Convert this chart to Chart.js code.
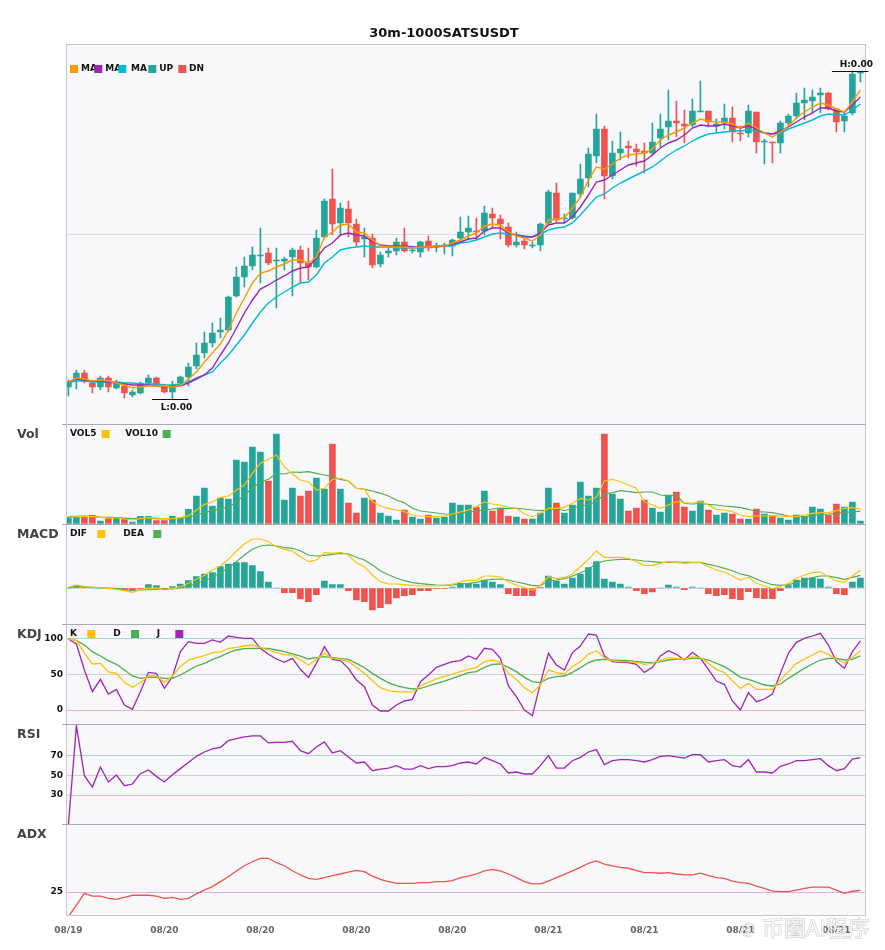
<!DOCTYPE html>
<html>
<head>
<meta charset="utf-8">
<title>30m-1000SATSUSDT</title>
<script src="https://cdn.jsdelivr.net/npm/chart.js@4.4.1/dist/chart.umd.min.js"></script>
<style>
  html, body { margin: 0; padding: 0; background: #fff; }
  #chart { display: block; }
</style>
</head>
<body>
<canvas id="chart" width="885" height="950" style="width:885px;height:950px"></canvas>
<script>
const FONT = '"DejaVu Sans", "Noto Sans", sans-serif';
const TITLE = '30m-1000SATSUSDT';

// 30m candles (USDT)
const openP = [
  2537e-7, 2544e-7, 2551e-7, 2541e-7, 2537e-7, 2546e-7, 2536e-7, 2538e-7, 2529e-7, 2531e-7,
  2541e-7, 2546e-7, 2537e-7, 2532e-7, 2541e-7, 2547e-7, 2558e-7, 2571e-7, 2581e-7, 2592e-7,
  2594e-7, 2628e-7, 2647e-7, 2658e-7, 2668e-7, 2671e-7, 2663e-7, 2663e-7, 2667e-7, 2674e-7,
  2661e-7, 2657e-7, 2687e-7, 2725e-7, 2701e-7, 2715e-7, 2700e-7, 2685e-7, 2686e-7, 2660e-7,
  2671e-7, 2673e-7, 2682e-7, 2673e-7, 2672e-7, 2683e-7, 2677e-7, 2678e-7, 2678e-7, 2686e-7,
  2692e-7, 2693e-7, 2693e-7, 2710e-7, 2705e-7, 2697e-7, 2679e-7, 2683e-7, 2678e-7, 2679e-7,
  2701e-7, 2731e-7, 2705e-7, 2706e-7, 2730e-7, 2746e-7, 2768e-7, 2795e-7, 2748e-7, 2771e-7,
  2778e-7, 2775e-7, 2773e-7, 2771e-7, 2786e-7, 2797e-7, 2803e-7, 2800e-7, 2799e-7, 2812e-7,
  2813e-7, 2798e-7, 2801e-7, 2806e-7, 2791e-7, 2791e-7, 2812e-7, 2782e-7, 2782e-7, 2781e-7,
  2801e-7, 2808e-7, 2821e-7, 2823e-7, 2829e-7, 2831e-7, 2815e-7, 2803e-7, 2811e-7, 2851e-7
];
const highP = [
  2544e-7, 2554e-7, 2554e-7, 2544e-7, 2548e-7, 2548e-7, 2544e-7, 2541e-7, 2534e-7, 2542e-7,
  2549e-7, 2547e-7, 2540e-7, 2543e-7, 2548e-7, 2561e-7, 2581e-7, 2592e-7, 2601e-7, 2606e-7,
  2628e-7, 2657e-7, 2667e-7, 2677e-7, 2696e-7, 2676e-7, 2676e-7, 2667e-7, 2676e-7, 2678e-7,
  2676e-7, 2694e-7, 2725e-7, 2755e-7, 2721e-7, 2723e-7, 2705e-7, 2696e-7, 2690e-7, 2672e-7,
  2677e-7, 2686e-7, 2696e-7, 2678e-7, 2683e-7, 2688e-7, 2681e-7, 2681e-7, 2685e-7, 2707e-7,
  2708e-7, 2706e-7, 2718e-7, 2716e-7, 2709e-7, 2701e-7, 2692e-7, 2685e-7, 2682e-7, 2701e-7,
  2734e-7, 2741e-7, 2710e-7, 2731e-7, 2760e-7, 2776e-7, 2810e-7, 2798e-7, 2783e-7, 2792e-7,
  2783e-7, 2780e-7, 2781e-7, 2801e-7, 2810e-7, 2834e-7, 2823e-7, 2814e-7, 2825e-7, 2843e-7,
  2813e-7, 2805e-7, 2820e-7, 2817e-7, 2798e-7, 2819e-7, 2812e-7, 2785e-7, 2782e-7, 2803e-7,
  2810e-7, 2831e-7, 2836e-7, 2834e-7, 2836e-7, 2832e-7, 2815e-7, 2813e-7, 2853e-7, 2852e-7
];
const lowP = [
  2528e-7, 2535e-7, 2541e-7, 2531e-7, 2534e-7, 2532e-7, 2535e-7, 2526e-7, 2527e-7, 2530e-7,
  2539e-7, 2538e-7, 2531e-7, 2525e-7, 2540e-7, 2538e-7, 2555e-7, 2566e-7, 2577e-7, 2586e-7,
  2592e-7, 2627e-7, 2637e-7, 2654e-7, 2641e-7, 2659e-7, 2616e-7, 2654e-7, 2628e-7, 2641e-7,
  2644e-7, 2656e-7, 2686e-7, 2689e-7, 2688e-7, 2687e-7, 2678e-7, 2667e-7, 2656e-7, 2657e-7,
  2667e-7, 2669e-7, 2672e-7, 2671e-7, 2667e-7, 2673e-7, 2672e-7, 2670e-7, 2668e-7, 2684e-7,
  2684e-7, 2684e-7, 2689e-7, 2696e-7, 2685e-7, 2677e-7, 2677e-7, 2675e-7, 2676e-7, 2673e-7,
  2699e-7, 2702e-7, 2702e-7, 2705e-7, 2726e-7, 2737e-7, 2761e-7, 2725e-7, 2745e-7, 2764e-7,
  2766e-7, 2758e-7, 2751e-7, 2769e-7, 2777e-7, 2784e-7, 2787e-7, 2781e-7, 2797e-7, 2812e-7,
  2797e-7, 2792e-7, 2795e-7, 2782e-7, 2783e-7, 2787e-7, 2771e-7, 2760e-7, 2761e-7, 2771e-7,
  2797e-7, 2805e-7, 2804e-7, 2811e-7, 2811e-7, 2814e-7, 2792e-7, 2792e-7, 2809e-7, 2842e-7
];
const closeP = [
  2542e-7, 2551e-7, 2543e-7, 2537e-7, 2546e-7, 2537e-7, 2542e-7, 2531e-7, 2532e-7, 2541e-7,
  2546e-7, 2539e-7, 2532e-7, 2538e-7, 2547e-7, 2557e-7, 2569e-7, 2581e-7, 2591e-7, 2594e-7,
  2627e-7, 2647e-7, 2658e-7, 2669e-7, 2669e-7, 2661e-7, 2664e-7, 2665e-7, 2674e-7, 2661e-7,
  2657e-7, 2686e-7, 2723e-7, 2700e-7, 2716e-7, 2701e-7, 2682e-7, 2687e-7, 2659e-7, 2669e-7,
  2673e-7, 2682e-7, 2673e-7, 2674e-7, 2682e-7, 2676e-7, 2678e-7, 2679e-7, 2684e-7, 2692e-7,
  2696e-7, 2692e-7, 2711e-7, 2706e-7, 2700e-7, 2679e-7, 2682e-7, 2679e-7, 2679e-7, 2700e-7,
  2732e-7, 2704e-7, 2706e-7, 2731e-7, 2745e-7, 2770e-7, 2795e-7, 2748e-7, 2771e-7, 2775e-7,
  2776e-7, 2772e-7, 2771e-7, 2782e-7, 2795e-7, 2803e-7, 2801e-7, 2798e-7, 2813e-7, 2813e-7,
  2802e-7, 2800e-7, 2806e-7, 2792e-7, 2790e-7, 2813e-7, 2782e-7, 2783e-7, 2781e-7, 2801e-7,
  2808e-7, 2821e-7, 2824e-7, 2827e-7, 2831e-7, 2815e-7, 2802e-7, 2808e-7, 2850e-7, 2852e-7
];

const ma5 = [
  2542e-7, 2546e-7, 2545e-7, 2543e-7, 2544e-7, 2543e-7, 2541e-7, 2539e-7, 2536e-7, 2537e-7,
  2538e-7, 2538e-7, 2538e-7, 2537e-7, 2538e-7, 2545e-7, 2552e-7, 2562e-7, 2571e-7, 2580e-7,
  2594e-7, 2611e-7, 2626e-7, 2641e-7, 2651e-7, 2653e-7, 2657e-7, 2660e-7, 2664e-7, 2664e-7,
  2661e-7, 2667e-7, 2687e-7, 2692e-7, 2699e-7, 2700e-7, 2692e-7, 2691e-7, 2684e-7, 2678e-7,
  2677e-7, 2677e-7, 2677e-7, 2676e-7, 2677e-7, 2677e-7, 2678e-7, 2678e-7, 2681e-7, 2684e-7,
  2688e-7, 2691e-7, 2698e-7, 2700e-7, 2699e-7, 2692e-7, 2688e-7, 2686e-7, 2683e-7, 2689e-7,
  2704e-7, 2705e-7, 2706e-7, 2716e-7, 2727e-7, 2744e-7, 2757e-7, 2755e-7, 2760e-7, 2766e-7,
  2769e-7, 2770e-7, 2771e-7, 2775e-7, 2784e-7, 2789e-7, 2792e-7, 2796e-7, 2801e-7, 2805e-7,
  2803e-7, 2802e-7, 2802e-7, 2800e-7, 2796e-7, 2801e-7, 2796e-7, 2791e-7, 2787e-7, 2792e-7,
  2798e-7, 2806e-7, 2812e-7, 2817e-7, 2821e-7, 2819e-7, 2815e-7, 2812e-7, 2822e-7, 2834e-7
];
const ma10 = [
  2542e-7, 2545e-7, 2544e-7, 2543e-7, 2543e-7, 2542e-7, 2541e-7, 2540e-7, 2539e-7, 2539e-7,
  2539e-7, 2538e-7, 2537e-7, 2538e-7, 2538e-7, 2541e-7, 2545e-7, 2549e-7, 2556e-7, 2569e-7,
  2581e-7, 2596e-7, 2611e-7, 2624e-7, 2635e-7, 2639e-7, 2644e-7, 2648e-7, 2653e-7, 2656e-7,
  2657e-7, 2666e-7, 2676e-7, 2681e-7, 2689e-7, 2691e-7, 2689e-7, 2688e-7, 2682e-7, 2679e-7,
  2678e-7, 2678e-7, 2678e-7, 2677e-7, 2677e-7, 2677e-7, 2678e-7, 2678e-7, 2680e-7, 2682e-7,
  2685e-7, 2686e-7, 2693e-7, 2696e-7, 2696e-7, 2691e-7, 2689e-7, 2687e-7, 2687e-7, 2691e-7,
  2699e-7, 2701e-7, 2701e-7, 2707e-7, 2717e-7, 2729e-7, 2742e-7, 2744e-7, 2749e-7, 2754e-7,
  2759e-7, 2761e-7, 2763e-7, 2769e-7, 2776e-7, 2781e-7, 2784e-7, 2789e-7, 2796e-7, 2799e-7,
  2798e-7, 2798e-7, 2800e-7, 2798e-7, 2796e-7, 2798e-7, 2795e-7, 2791e-7, 2790e-7, 2793e-7,
  2797e-7, 2802e-7, 2807e-7, 2811e-7, 2816e-7, 2816e-7, 2813e-7, 2812e-7, 2819e-7, 2827e-7
];
const ma20 = [
  2542e-7, 2543e-7, 2543e-7, 2542e-7, 2542e-7, 2542e-7, 2542e-7, 2541e-7, 2541e-7, 2540e-7,
  2540e-7, 2540e-7, 2539e-7, 2539e-7, 2540e-7, 2542e-7, 2546e-7, 2549e-7, 2552e-7, 2561e-7,
  2569e-7, 2579e-7, 2589e-7, 2601e-7, 2612e-7, 2621e-7, 2627e-7, 2632e-7, 2637e-7, 2641e-7,
  2642e-7, 2649e-7, 2661e-7, 2667e-7, 2674e-7, 2676e-7, 2677e-7, 2678e-7, 2677e-7, 2677e-7,
  2677e-7, 2676e-7, 2676e-7, 2676e-7, 2676e-7, 2677e-7, 2677e-7, 2678e-7, 2678e-7, 2681e-7,
  2682e-7, 2684e-7, 2687e-7, 2690e-7, 2691e-7, 2690e-7, 2689e-7, 2688e-7, 2687e-7, 2690e-7,
  2694e-7, 2696e-7, 2697e-7, 2701e-7, 2709e-7, 2718e-7, 2727e-7, 2730e-7, 2736e-7, 2741e-7,
  2745e-7, 2749e-7, 2753e-7, 2757e-7, 2763e-7, 2769e-7, 2774e-7, 2778e-7, 2783e-7, 2787e-7,
  2790e-7, 2791e-7, 2792e-7, 2793e-7, 2793e-7, 2794e-7, 2793e-7, 2791e-7, 2790e-7, 2791e-7,
  2795e-7, 2798e-7, 2801e-7, 2804e-7, 2808e-7, 2810e-7, 2809e-7, 2809e-7, 2814e-7, 2820e-7
];

// volume (millions)
const volume = [
  6.7, 7.3, 6.7, 8.7, 3, 5.3, 6.3, 5.3, 2, 7.7,
  7.7, 3.3, 3.3, 7.7, 5.7, 14.7, 28, 36, 18, 26,
  25, 64, 62, 77, 72, 43, 90, 24, 36, 28,
  33, 46, 35, 80, 35, 21, 11, 26, 24, 11,
  8, 4, 14, 7, 5, 9, 6, 7, 21, 19,
  19, 17, 33, 13, 16, 8, 7, 5, 5, 11,
  36, 21, 11, 19, 42, 28, 36, 90, 30, 25,
  13, 16, 24, 16, 12, 29, 32, 17, 13, 23,
  14, 9, 11, 10, 5, 5, 15, 10, 8, 6,
  4, 9, 7, 17, 15, 9, 20, 17, 22, 3
];
const vol5 = [
  6.7, 7.3, 7.3, 7.3, 6.7, 6, 6, 5, 4, 5.3,
  6.3, 6, 5, 5.3, 6.3, 8.3, 14, 19.7, 22, 26.7,
  28, 34, 39, 50.7, 60.7, 64.7, 69, 57.3, 50, 44,
  42.3, 34, 35.7, 44.7, 45.7, 43.3, 35.7, 34.7, 22.3, 18,
  15.7, 14, 12.3, 9, 8, 7.3, 7.3, 8, 10, 12,
  14, 17.3, 22, 20, 19, 16.7, 15.7, 10, 7.3, 10.7,
  15.7, 15.7, 16.7, 20.7, 25.7, 24, 26.7, 43, 44.7, 42.3,
  39, 35.7, 22.3, 19, 15.7, 19, 22.3, 21.3, 20.7, 22.3,
  19, 14.7, 14, 12.3, 9, 7.3, 8, 8, 8.3, 8,
  7.3, 7.3, 9, 10.7, 11.3, 11.3, 13.3, 15.7, 16.7, 14.7
];
const vol10 = [
  7.3, 7.7, 8, 7.7, 7, 6.7, 6.3, 6, 5.3, 5.7,
  5.7, 5.3, 5, 5.3, 5.7, 6.7, 9, 11.3, 13.3, 15.3,
  16.7, 22.3, 29, 35.7, 42.3, 44.7, 50.7, 50, 52, 51.7,
  52.3, 50.7, 49, 47.3, 44.7, 43, 35.7, 34.7, 33, 30.7,
  28, 24, 21.3, 15.7, 13, 12, 11, 10, 9.7, 10.7,
  12, 13, 14, 15, 15.7, 15.7, 15.7, 15, 14, 13.3,
  14, 15.7, 13.3, 15.7, 18, 19, 22.3, 30, 31.3, 33.3,
  32.3, 31.3, 32, 32, 29, 28.3, 28.7, 20.7, 20, 20.7,
  19.7, 19, 18, 17.3, 16.3, 14.7, 12.3, 12, 11.3, 9.7,
  8, 7.3, 7.3, 8.3, 9.7, 10, 10.7, 11.3, 12.3, 12.7
];

// MACD (x1e-8)
const macdHist = [
  0, 2.7, 0.7, 0.3, 0, -0.3, -0.3, -2.3, -2.3, -0.3,
  3.3, 2.3, -1.7, 1.3, 4, 7.3, 11.3, 14, 15.3, 21.3,
  24, 25.3, 25.3, 22.3, 16.3, 6, 0, -4.7, -4.7, -11,
  -13.7, -6.7, 7, 3.3, 3.3, -2.7, -12, -13.7, -22, -19.7,
  -16, -10, -7.7, -6.7, -2.7, -2.7, -0.7, -0.7, 1, 4.7,
  4.7, 4, 8, 6, 3.3, -5.7, -7.7, -7.7, -7.7, 0.3,
  12, 7, 4, 10, 14, 20.3, 26.3, 9, 6, 4,
  1, -2.7, -5.7, -4, 0, 3, 1, -1.7, 1, 0,
  -5.7, -7.7, -6.7, -10.7, -11.7, -3.7, -9.7, -10.7, -10.7, -2.7,
  2.3, 8, 10, 10, 9, 1, -5.7, -6.7, 6, 10
];
const dif = [
  0.7, 3, 1.7, 0.7, 0.3, -0.3, -1.3, -2.7, -4.3, -2,
  -0.7, -0.3, -2, -1, 1.3, 4.7, 8.7, 12.7, 18, 22,
  28.7, 37, 44, 49, 49, 46.3, 41.3, 38.7, 37, 31.3,
  26.3, 28, 35.3, 34.7, 35.7, 33, 25.3, 21.3, 13, 6.3,
  4, 4, 3.3, 2.3, 2, 2, 2.3, 2.7, 4, 6,
  7.7, 7.7, 12, 12, 11, 6, 3, 0.3, -2, 3,
  11.3, 9.7, 10.3, 14, 21.3, 28.7, 37, 30.7, 30.7, 30.7,
  29.7, 26.3, 22.7, 22.7, 24.7, 26.7, 25.7, 24.7, 25.3, 25.3,
  21.3, 18, 16, 12, 8, 10.7, 4.7, 2, -0.7, 1.3,
  4.7, 9.7, 13, 15.3, 16, 11.3, 7.3, 5.7, 12, 18
];
const dea = [
  0.3, 1.3, 1, 0.7, 0.3, 0, -0.3, -1.3, -2, -2,
  -1.7, -1.3, -1.3, -1, 0.3, 1.3, 4.7, 7.3, 10.7, 15.3,
  20.3, 26.3, 33, 38.7, 42, 43, 42, 40.3, 39.7, 37.3,
  33, 32, 32.7, 33.7, 34.7, 34, 30.7, 28, 23, 17.3,
  13.3, 10, 7.3, 5.3, 4.3, 3.7, 3, 2.7, 3, 4,
  4.7, 5.7, 7.7, 8.7, 9, 8, 6, 4.3, 2.3, 2.3,
  7, 8, 9.3, 12, 15.3, 18.7, 24.7, 27, 28, 28.7,
  28.7, 28, 27, 26.3, 25.7, 25.7, 26, 25.7, 25.7, 25.7,
  23.7, 22, 19.7, 17.3, 14, 12.3, 9, 5.7, 3.3, 2.7,
  3.3, 5.3, 8, 10.3, 12, 12, 10.3, 8.7, 10.7, 12.7
];

const kLine = [
  100, 97.7, 80, 64.8, 65.7, 53.5, 51.6, 39, 31.9, 38.5,
  47.9, 47.9, 39, 47.9, 61, 70.4, 73.7, 76.5, 80.8, 81.7,
  86.9, 88.3, 90.1, 91.5, 88.3, 84.5, 80.8, 77.5, 77.5, 70.4,
  63.4, 71.4, 79.8, 72.8, 71.4, 68.1, 60.1, 51.6, 41.3, 31.5,
  27.2, 25.4, 25.4, 25.4, 33.8, 39, 43.7, 46.9, 50.7, 54,
  57.3, 60.1, 68.1, 70.4, 66.7, 51.6, 43.2, 31.5, 24.4, 35.2,
  56.3, 52.6, 50.7, 61, 68.1, 78.9, 83.1, 73.7, 69.5, 68.1,
  68.1, 67.1, 64.3, 65.7, 70.4, 73.7, 72.8, 71.8, 75.1, 73.7,
  65.7, 57.3, 52.6, 41.3, 30.5, 37.6, 29.1, 29.1, 29.1, 42.3,
  54, 65.7, 71.4, 77.5, 83.1, 78.4, 71.4, 65.7, 74.2, 83.1
];
const dLine = [
  100, 97.7, 91.5, 82.2, 76.1, 69.5, 64.3, 56.3, 47.9, 44.6,
  46, 46, 44.6, 44.6, 49.3, 55.4, 62, 65.7, 71.4, 75.1,
  80.8, 84.5, 86.4, 86.9, 86.9, 86.9, 84.5, 82.2, 79, 76,
  71.8, 73.7, 75.1, 73.7, 72.3, 71.4, 65.7, 59.6, 51.6, 44.6,
  38.5, 34.3, 31.5, 29.6, 30.5, 33.8, 37.6, 40.8, 44.6, 48.4,
  52.6, 54, 60.1, 64.3, 64.8, 60.1, 54, 46, 39.9, 38.5,
  44.6, 46.9, 47.9, 53, 59.6, 66.7, 70.4, 71.4, 70.4, 70,
  69.5, 68.5, 67.1, 66.7, 68.1, 70.4, 71.8, 71.8, 72.8, 72.8,
  70.4, 65.7, 61, 54, 46, 43.2, 39.4, 35.2, 33.8, 36.6,
  44.6, 51.6, 58.7, 64.8, 70.4, 72.8, 72.8, 70.4, 71.4, 76.1
];
const jLine = [
  100, 93, 56.3, 25.8, 43.2, 22.5, 29.1, 7, 0.9, 25.8,
  53, 51.6, 30.5, 46.9, 82.2, 96.2, 93.9, 93.9, 98.6, 95.3,
  104.2, 102.3, 100.9, 100.9, 86.9, 78.4, 71.8, 67.1, 72.8, 57.3,
  46, 65.7, 89.2, 71.4, 69.5, 58.7, 42.3, 32.9, 7, -1.4,
  -1.4, 7, 12.7, 15, 39.9, 49.3, 60.1, 64.3, 68.1, 69.5,
  76.1, 71.4, 86.9, 85.4, 72.8, 33.8, 18.8, 0, -8, 37.6,
  79.8, 63.4, 56.3, 80.8, 90.1, 107, 105.6, 76.1, 68.1, 67.1,
  66.7, 64.3, 53, 60.1, 76.1, 83.6, 78.4, 70.4, 81.2, 72.8,
  57.3, 40.8, 36.2, 12.7, 0, 24.4, 11.7, 15.5, 22.5, 51.6,
  79.8, 95.3, 100.9, 104.2, 108, 91.5, 68.1, 58.7, 82.2, 97.2
];

const rsi = [
  0, 100, 49.5, 38, 58.3, 43.1, 50.2, 39.4, 41.1, 51.5,
  55.2, 48.8, 43.1, 50.5, 56.6, 62.9, 69, 73.4, 76.5, 78.1,
  84.8, 86.9, 88.6, 89.6, 89.6, 82.5, 83.1, 83.1, 84.2, 74.7,
  71.7, 78.5, 83.5, 72.4, 74.7, 68.4, 62.3, 63.3, 54.5, 56.2,
  57.2, 59.6, 56.2, 56.2, 59.6, 56.6, 58.6, 58.6, 59.6, 62.3,
  63.3, 61.3, 68, 64.6, 61.3, 52.2, 53.2, 51.2, 51.2, 59.6,
  69.7, 57.2, 57.2, 64.6, 68, 73.4, 75.8, 60.6, 64.6, 65.7,
  65.7, 64.6, 63.3, 65.7, 69, 69.7, 68.4, 67.3, 70.7, 70.7,
  63.3, 64.6, 65.7, 59.6, 58.2, 65.7, 53.2, 53.2, 52.2, 58.9,
  61.3, 64.6, 64.6, 65.7, 66.6, 59.6, 54.5, 56.6, 66.3, 67.6
];

const adx = [
  12, 18.2, 24.3, 22.9, 22.9, 21.7, 21.2, 22.2, 23.3, 23.3,
  23.3, 22.9, 21.7, 22.2, 21.2, 21.7, 24, 26, 27.8, 30.4,
  33, 36, 38.7, 40.8, 42.6, 42.6, 40.3, 38.7, 36.1, 33.9,
  32.1, 31.6, 32.5, 33.5, 34.4, 35.4, 36.3, 35.6, 33.3, 31.6,
  30.4, 29.5, 29.5, 29.5, 29.9, 29.9, 30.4, 30.4, 30.9, 32.5,
  33.3, 34.4, 36, 36.8, 36, 34.4, 32.5, 30.4, 29.2, 29.2,
  30.7, 32.5, 34.2, 36, 37.9, 40, 41.2, 39.6, 38.6, 37.9,
  37.4, 36.1, 35.1, 35.1, 34.8, 35.1, 34.4, 33.9, 33.9, 34.8,
  33.5, 32.5, 32.1, 30.7, 29.9, 29.5, 28.1, 26.9, 25.5, 25.2,
  25.2, 26, 26.9, 27.5, 27.5, 27.5, 26, 24.3, 25.4, 25.9
];

const tickIndex = [0, 12, 24, 36, 48, 60, 72, 84, 96];
const tickLabels = ['08/19', '08/20', '08/20', '08/20', '08/20', '08/21', '08/21', '08/21', '08/21'];

const UP = '#26a69a', DN = '#ef5350';
const candleColor = openP.map((o, i) => closeP[i] >= o ? UP : DN);
const histColor = macdHist.map(v => v >= 0 ? UP : DN);

const pts = arr => arr.map((v, i) => ({ x: i, y: v }));

function line(label, values, color, axis, width) {
  return {
    type: 'line', label, data: pts(values), yAxisID: axis,
    borderColor: color, borderWidth: width || 1.3,
    pointRadius: 0, tension: 0, fill: false, order: 0
  };
}

function bars(label, data, colors, axis, thick, order, minLen) {
  return {
    type: 'bar', label, data, yAxisID: axis,
    backgroundColor: colors, borderWidth: 0,
    barThickness: thick, grouped: false, order,
    minBarLength: minLen || 0
  };
}

function panel(stackWeight, weight, min, max, levels, colors, showLabels) {
  return {
    type: 'linear', position: 'left', stack: 'panels', stackWeight, weight,
    min, max, offset: false,
    afterFit: s => { s.width = 66; },
    afterBuildTicks: s => { s.ticks = levels.map(v => ({ value: v })); },
    grid: { drawTicks: false, lineWidth: 1, color: c => colors[c.index] || 'rgba(0,0,0,0)' },
    border: { display: false },
    ticks: { display: showLabels, padding: 3, color: '#111', font: { family: FONT, size: 9, weight: 'bold' } }
  };
}

// keep each indicator inside its own panel
const panelClip = {
  id: 'panelClip',
  beforeDatasetDraw(chart, args) {
    const s = chart.scales[args.meta.yAxisID];
    const a = chart.chartArea;
    chart.ctx.save();
    chart.ctx.beginPath();
    chart.ctx.rect(a.left, s.top, a.right - a.left, s.bottom - s.top);
    chart.ctx.clip();
  },
  afterDatasetDraw(chart) {
    chart.ctx.restore();
  }
};

function drawLegend(ctx, y, texts, boxes) {
  ctx.font = 'bold 9px ' + FONT;
  ctx.fillStyle = '#111';
  ctx.textAlign = 'left';
  ctx.textBaseline = 'middle';
  texts.forEach(t => ctx.fillText(t[0], t[1], y));
  boxes.forEach(b => {
    ctx.fillStyle = b[1];
    ctx.fillRect(b[0], y - 4, 8, 8);
  });
}

const decor = {
  id: 'decor',
  beforeDraw(chart) {
    const { ctx, chartArea: a } = chart;
    ctx.save();
    ctx.fillStyle = '#f8f8fb';
    ctx.fillRect(a.left, a.top, a.right - a.left, a.bottom - a.top);
    ctx.restore();
  },
  afterDraw(chart) {
    const { ctx, chartArea: a, scales } = chart;
    ctx.save();

    // title
    ctx.fillStyle = '#111';
    ctx.font = 'bold 13px ' + FONT;
    ctx.textAlign = 'center';
    ctx.textBaseline = 'middle';
    ctx.fillText(TITLE, 444, 34);

    // outer frame
    ctx.strokeStyle = '#c8c8d2';
    ctx.lineWidth = 1;
    ctx.strokeRect(Math.round(a.left) + 0.5, Math.round(a.top) + 0.5,
      Math.round(a.right - a.left) - 1, Math.round(a.bottom - a.top));

    // panel separators
    ctx.strokeStyle = '#a9a9b3';
    ['yVol', 'yMacd', 'yKdj', 'yRsi', 'yAdx'].forEach(id => {
      const y = Math.round(scales[id].top) + 0.5;
      ctx.beginPath();
      ctx.moveTo(a.left - 4, y);
      ctx.lineTo(a.right, y);
      ctx.stroke();
    });

    // panel titles
    ctx.fillStyle = '#444';
    ctx.font = 'bold 12.5px ' + FONT;
    ctx.textAlign = 'left';
    ctx.textBaseline = 'middle';
    [['Vol', 'yVol'], ['MACD', 'yMacd'], ['KDJ', 'yKdj'], ['RSI', 'yRsi'], ['ADX', 'yAdx']]
      .forEach(p => ctx.fillText(p[0], 17, scales[p[1]].top + 10.5));

    // legends
    drawLegend(ctx, scales.y.top + 25,
      [['MA', 81], ['MA', 105.3], ['MA', 131], ['UP', 159.3], ['DN', 189]],
      [[70, '#ff9800'], [94.3, '#9c27b0'], [118.3, '#00bcd4'], [148.3, UP], [178.3, DN]]);
    drawLegend(ctx, scales.yVol.top + 10,
      [['VOL5', 70], ['VOL10', 125.3]], [[101.7, '#ffc107'], [162.7, '#4caf50']]);
    drawLegend(ctx, scales.yMacd.top + 10,
      [['DIF', 70], ['DEA', 123.3]], [[97.3, '#ffc107'], [153.3, '#4caf50']]);
    drawLegend(ctx, scales.yKdj.top + 10,
      [['K', 70], ['D', 113.3], ['J', 156.7]], [[87.3, '#ffc107'], [131, '#4caf50'], [175.3, '#9c27b0']]);

    // highest high / lowest low markers
    const hi = highP.indexOf(Math.max(...highP));
    const lo = lowP.indexOf(Math.min(...lowP));
    const mark = (idx, val, text, dy) => {
      const px = scales.x.getPixelForValue(idx);
      const py = Math.round(scales.y.getPixelForValue(val)) + 0.5;
      ctx.strokeStyle = '#111';
      ctx.lineWidth = 1;
      ctx.beginPath();
      ctx.moveTo(px - 20.5, py);
      ctx.lineTo(px + 16, py);
      ctx.stroke();
      ctx.fillStyle = '#111';
      ctx.font = 'bold 9px ' + FONT;
      ctx.textAlign = 'center';
      ctx.textBaseline = 'middle';
      ctx.fillText(text + val.toFixed(2), px + 4, py + dy);
    };
    mark(hi, highP[hi], 'H:', -6.5);
    mark(lo, lowP[lo], 'L:', 8.5);

    // source watermark
    ctx.textAlign = 'left';
    ctx.textBaseline = 'alphabetic';
    ctx.lineWidth = 1;
    ctx.strokeStyle = 'rgba(140,140,140,0.45)';
    ctx.fillStyle = 'rgba(255,255,255,0.7)';
    ctx.font = '15px "Noto Sans CJK SC", sans-serif';
    ctx.strokeText('@', 741, 934);
    ctx.fillText('@', 741, 934);
    ctx.font = '22px "Noto Sans CJK SC", sans-serif';
    ctx.strokeText('币圈AI程序', 762, 936);
    ctx.fillText('币圈AI程序', 762, 936);

    ctx.restore();
  }
};

new Chart(document.getElementById('chart'), {
  type: 'bar',
  data: {
    datasets: [
      line('MA5', ma5, '#ff9800', 'y', 1.4),
      line('MA10', ma10, '#9c27b0', 'y', 1.4),
      line('MA20', ma20, '#00bcd4', 'y', 1.4),
      bars('Body', openP.map((o, i) => ({ x: i, y: [o, closeP[i]] })), candleColor, 'y', 6, 1, 1),
      bars('Wick', lowP.map((l, i) => ({ x: i, y: [l, highP[i]] })), candleColor, 'y', 1, 2),

      line('VOL5', vol5, '#ffc107', 'yVol', 1.2),
      line('VOL10', vol10, '#4caf50', 'yVol', 1.2),
      bars('Vol', pts(volume), candleColor, 'yVol', 6, 1),

      line('DIF', dif, '#ffc107', 'yMacd', 1.2),
      line('DEA', dea, '#4caf50', 'yMacd', 1.2),
      bars('MACD', pts(macdHist), histColor, 'yMacd', 6, 1),

      line('K', kLine, '#ffc107', 'yKdj', 1.3),
      line('D', dLine, '#4caf50', 'yKdj', 1.3),
      line('J', jLine, '#9c27b0', 'yKdj', 1.3),

      line('RSI', rsi, '#9c27b0', 'yRsi', 1.3),
      line('ADX', adx, '#ef5350', 'yAdx', 1.3)
    ]
  },
  options: {
    responsive: false,
    animation: false,
    events: [],
    layout: { padding: { left: 0, right: 19.4, top: 44, bottom: 0 } },
    plugins: {
      legend: { display: false },
      tooltip: { enabled: false },
      title: { display: false }
    },
    scales: {
      x: {
        type: 'linear', min: -0.3, max: 99.65, offset: false,
        afterFit: s => { s.height = 35; },
        afterBuildTicks: s => { s.ticks = tickIndex.map(v => ({ value: v })); },
        grid: { display: false },
        border: { display: false },
        ticks: {
          autoSkip: false, maxRotation: 0, padding: 2, color: '#666',
          font: { family: FONT, size: 9, weight: 'bold' },
          callback: (v, i) => tickLabels[i]
        }
      },
      y: panel(380, 6, 2500e-7, 2880e-7, [2690e-7], ['#dcdce2'], false),
      yVol: panel(100, 5, 0, 100, [0], ['rgba(0,0,0,0)'], false),
      yMacd: panel(100, 4, -36, 64, [0], ['#d6d6dc'], false),
      yKdj: panel(100, 3, -19.7, 121.1, [0, 50, 100], ['#f7b8b8', '#cfcfd5', '#a8dad5'], true),
      yRsi: panel(100, 2, 0.8, 101.6, [30, 50, 70], ['#f7b8b8', '#cfcfd5', '#a8dad5'], true),
      yAdx: panel(91, 1, 13, 60.5, [25], ['#dcb2e6'], true)
    }
  },
  plugins: [panelClip, decor]
});
</script>
</body>
</html>
